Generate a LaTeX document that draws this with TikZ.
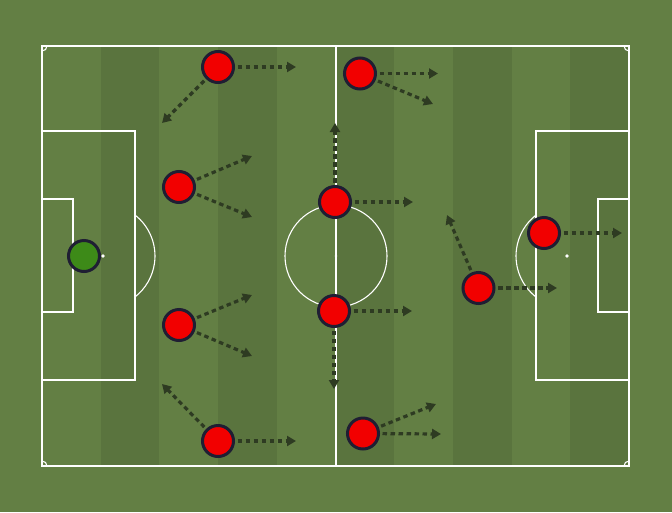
\documentclass[tikz,border=0pt]{standalone}
\usetikzlibrary{arrows.meta,shadows}
\definecolor{grass}{HTML}{637F44}
\definecolor{grassdark}{HTML}{5A743E}
\definecolor{runcol}{HTML}{2E3B22}
\definecolor{rim}{HTML}{1F1E33}
\definecolor{redp}{HTML}{F20000}
\definecolor{gkp}{HTML}{3D8A18}
\tikzset{
  pline/.style={draw=white, line width=1.1pt},
  player/.style={circle, minimum size=31pt, inner sep=0pt, line width=3pt, draw=rim, fill=redp,
    outer sep=0pt, drop shadow={shadow xshift=0pt, shadow yshift=-1pt, opacity=0.25}},
  keeper/.style={player, fill=gkp},
  run/.style={draw=runcol, line width=3.2pt, dash pattern=on 4.5pt off 3.5pt, shorten <=4pt,
    -{Triangle[length=9pt,width=10pt]}},
}
\begin{document}
\begin{tikzpicture}[x=1pt,y=-1pt]
\useasboundingbox (0,0) rectangle (672,512);
\fill[grass] (0,0) rectangle (672,512);
% stripes
\foreach \i in {1,3,5,7,9}{
  \fill[grassdark] ({42+58.7*\i},46) rectangle ({42+58.7*(\i+1)},466);
}
% pitch lines
\draw[pline] (42,46) rectangle (629,466);
\draw[pline] (336,46) -- (336,466);
\draw[pline] (336,256) circle[radius=51];
\fill[white] (336,256) circle[radius=1.3];
\draw[pline] (42,131) rectangle (135,380);
\draw[pline] (42,199) rectangle (73,312);
\fill[white] (103,256) circle[radius=1.8];
\draw[pline] (135,215) arc[start angle=-52, end angle=52, radius=52];
\draw[pline] (536,131) rectangle (629,380);
\draw[pline] (598,199) rectangle (629,312);
\fill[white] (567,256) circle[radius=1.8];
\draw[pline] (536,297) arc[start angle=128, end angle=232, radius=52];
\begin{scope}
  \clip (42,46) rectangle (629,466);
  \draw[pline] (42,46) circle[radius=5];
  \draw[pline] (629,46) circle[radius=5];
  \draw[pline] (42,466) circle[radius=5];
  \draw[pline] (629,466) circle[radius=5];
\end{scope}
% players
\node[player] (p1) at (218,67) {};
\node[player] (p2) at (360,73.5) {};
\node[player] (p3) at (179,187) {};
\node[player] (p4) at (335,202) {};
\node[keeper] (gk) at (84,256) {};
\node[player] (p6) at (544,233) {};
\node[player] (p7) at (478.5,288) {};
\node[player] (p8) at (179,325) {};
\node[player] (p9) at (334,311) {};
\node[player] (p10) at (218,441) {};
\node[player] (p11) at (363,433.5) {};
% targets
\coordinate (t1a) at (296,67);
\coordinate (t1b) at (162,123);
\coordinate (t2a) at (438,73.5);
\coordinate (t2b) at (433,104);
\coordinate (t3a) at (252,156);
\coordinate (t3b) at (252,217);
\coordinate (t4a) at (335,123);
\coordinate (t4b) at (413,202);
\coordinate (t6a) at (622,233);
\coordinate (t7a) at (557,288);
\coordinate (t7b) at (447,215);
\coordinate (t8a) at (252,295);
\coordinate (t8b) at (252,356);
\coordinate (t9a) at (412,311);
\coordinate (t9b) at (334,389);
\coordinate (t10a) at (296,441);
\coordinate (t10b) at (162,384);
\coordinate (t11a) at (436,404);
\coordinate (t11b) at (441,434);
% runs
\draw[run] (p1) -- (t1a);
\draw[run] (p1) -- (t1b);
\draw[run] (p2) -- (t2a);
\draw[run] (p2) -- (t2b);
\draw[run] (p3) -- (t3a);
\draw[run] (p3) -- (t3b);
\draw[run] (p4) -- (t4a);
\draw[run] (p4) -- (t4b);
\draw[run] (p6) -- (t6a);
\draw[run] (p7) -- (t7a);
\draw[run] (p7) -- (t7b);
\draw[run] (p8) -- (t8a);
\draw[run] (p8) -- (t8b);
\draw[run] (p9) -- (t9a);
\draw[run] (p9) -- (t9b);
\draw[run] (p10) -- (t10a);
\draw[run] (p10) -- (t10b);
\draw[run] (p11) -- (t11a);
\draw[run] (p11) -- (t11b);
\end{tikzpicture}
\end{document}
